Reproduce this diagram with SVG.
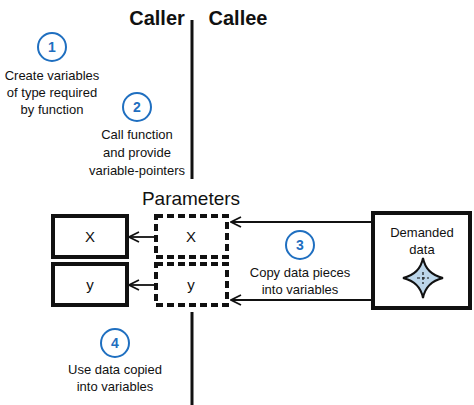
<svg xmlns="http://www.w3.org/2000/svg" width="474" height="405" viewBox="0 0 474 405">
<defs>
<style>
text{font-family:"Liberation Sans","DejaVu Sans",sans-serif;fill:#111;text-anchor:middle}
.h{font-size:20px;font-weight:bold}
.t{font-size:13px}
.num{font-size:14px;fill:#1f6fc0;font-weight:bold}
.c{fill:none;stroke:#1f6fc0;stroke-width:2}
.box{fill:#fff;stroke:#111;stroke-width:4}
.dash{fill:#fff;stroke:#111;stroke-width:4;stroke-dasharray:7 4}
.line{stroke:#111;stroke-width:3;fill:none}
.conn{stroke:#111;stroke-width:1.8;fill:none;marker-end:url(#ah)}
</style>
<marker id="ah" viewBox="0 0 12 12" refX="11" refY="6" markerWidth="12" markerHeight="12" markerUnits="userSpaceOnUse" orient="auto">
<path d="M1,1 L11,6 L1,11" fill="none" stroke="#111" stroke-width="1.8"/>
</marker>
</defs>
<g id="divider">
<line class="line" x1="192" y1="20" x2="192" y2="179"/>
<line class="line" x1="192" y1="312" x2="192" y2="405"/>
</g>
<g id="headers">
<text class="h" x="157" y="25">Caller</text>
<text class="h" x="238" y="25">Callee</text>
<text class="h" x="191" y="205" style="font-weight:normal;font-size:19px">Parameters</text>
</g>
<g id="step1">
<circle class="c" cx="52" cy="47" r="14"/>
<text class="num" x="52" y="52">1</text>
<text class="t" x="52" y="80">Create variables</text>
<text class="t" x="52" y="97">of type required</text>
<text class="t" x="52" y="114">by function</text>
</g>
<g id="step2">
<circle class="c" cx="137" cy="107" r="14"/>
<text class="num" x="137" y="112">2</text>
<text class="t" x="137" y="139">Call function</text>
<text class="t" x="137" y="157">and provide</text>
<text class="t" x="137" y="175">variable-pointers</text>
</g>
<g id="varX">
<rect class="box" x="53" y="216" width="74" height="41"/>
<text class="t" x="90" y="242" style="font-size:15px">X</text>
</g>
<g id="varY">
<rect class="box" x="53" y="264" width="74" height="41"/>
<text class="t" x="90" y="290" style="font-size:15px">y</text>
</g>
<g id="paramX">
<rect class="dash" x="156" y="216" width="71" height="41"/>
<text class="t" x="191" y="242" style="font-size:15px">X</text>
</g>
<g id="paramY">
<rect class="dash" x="156" y="264" width="71" height="41"/>
<text class="t" x="191" y="290" style="font-size:15px">y</text>
</g>
<g id="data">
<rect class="box" x="373" y="213" width="97" height="95"/>
<text class="t" x="422" y="237">Demanded</text>
<text class="t" x="422" y="254">data</text>
<path d="M423,258 Q426,274 443,278 Q426,282 423,298 Q420,282 403,278 Q420,274 423,258 Z" fill="#bcd6ea" stroke="#111" stroke-width="2"/>
<path d="M423,272 v12 M417,278 h12" stroke="#111" stroke-width="1.2" stroke-dasharray="3 2"/>
</g>
<g id="step3">
<circle class="c" cx="300" cy="245" r="14"/>
<text class="num" x="300" y="250">3</text>
<text class="t" x="300" y="277">Copy data pieces</text>
<text class="t" x="300" y="294">into variables</text>
</g>
<g id="step4">
<circle class="c" cx="115" cy="343" r="14"/>
<text class="num" x="115" y="348">4</text>
<text class="t" x="115" y="374">Use data copied</text>
<text class="t" x="115" y="391">into variables</text>
</g>
<g id="connectors">
<line class="conn" x1="154" y1="237" x2="129" y2="237"/>
<line class="conn" x1="154" y1="285" x2="129" y2="285"/>
<line class="conn" x1="371" y1="222" x2="231" y2="222"/>
<line class="conn" x1="371" y1="300" x2="231" y2="300"/>
</g>
</svg>
